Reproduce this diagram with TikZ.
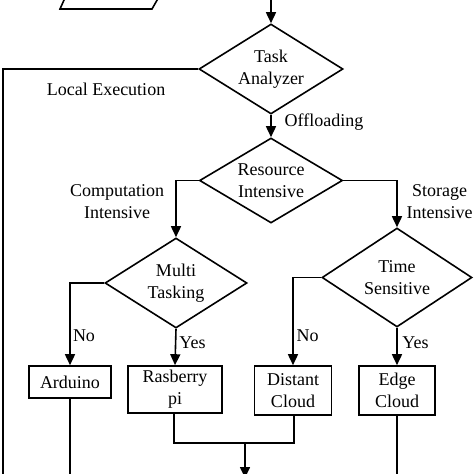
\documentclass[tikz,border=0pt]{standalone}
\usepackage{fontspec}
\setmainfont{Liberation Serif}
\usetikzlibrary{shapes.geometric,arrows.meta}
\begin{document}
\begin{tikzpicture}[x=1pt,y=-1pt,
  every node/.style={font=\fontsize{18}{22}\selectfont, align=center, inner sep=0pt},
  line/.style={line width=1.6pt, line join=miter},
  arr/.style={line, -{Triangle[length=11pt,width=10pt]}},
  dia/.style={draw, line width=1.6pt, diamond, aspect=1.6, inner sep=0pt},
  box/.style={draw, line width=1.6pt, rectangle, inner sep=0pt},
  lab/.style={fill=none}]
\useasboundingbox (0,0) rectangle (474,474);
\clip (0,0) rectangle (474,474);
% input parallelogram (cropped)
\draw[line] (82,-40) -- (180,-40) -- (152,9) -- (60,9) -- cycle;
\coordinate (in) at (271,-10);
% decisions
\node[dia, minimum width=144pt, minimum height=90pt] (ta) at (271,69) {Task\\Analyzer};
\node[dia, minimum width=143pt, minimum height=85pt] (ri) at (271,180.5) {Resource\\Intensive};
\node[dia, minimum width=142pt, minimum height=90pt] (mt) at (176,283) {Multi\\Tasking};
\node[dia, minimum width=150pt, minimum height=99pt] (ts) at (397,277.5) {Time\\Sensitive};
% boxes
\node[box, minimum width=82pt, minimum height=32pt] (ard) at (70,382) {Arduino};
\node[box, minimum width=94pt, minimum height=47pt] (ras) at (175,389.5) {Rasberry\\pi};
\node[box, minimum width=77pt, minimum height=49pt] (dis) at (293,390.5) {Distant\\Cloud};
\node[box, minimum width=76pt, minimum height=49pt] (edg) at (397,390.5) {Edge\\Cloud};
% helper coordinates
\coordinate (le) at (3,69);
\coordinate (leb) at (3,480);
\coordinate (ardb) at (70,480);
\coordinate (edgb) at (397,480);
\coordinate (mL) at (174,443);
\coordinate (mR) at (294,443);
\coordinate (m) at (245,443);
\coordinate (mb) at (245,478);
% connectors
\draw[arr] (in) -- (ta.north);
\draw[line] (ta.west) -- (le) -- (leb);
\draw[arr] (ta.south) -- (ri.north);
\draw[arr] (ri.west) -| (mt.north);
\draw[arr] (ri.east) -| (ts.north);
\draw[arr] (mt.west) -| (ard.north);
\draw[arr] (mt.south) -- (ras.north);
\draw[arr] (ts.west) -| (dis.north);
\draw[arr] (ts.south) -- (edg.north);
\draw[line] (ard.south) -- (ardb);
\draw[line] (edg.south) -- (edgb);
\draw[line] (ras.south -| mL) -- (mL) -- (mR) -- (dis.south -| mR);
\draw[arr] (m) -- (mb);
% labels
\node[lab] (l1) at (106,89) {Local Execution};
\node[lab] (l2) at (324,122) {Offloading};
\node[lab] (l3) at (117,202) {Computation\\Intensive};
\node[lab] (l4) at (439.5,202) {Storage\\Intensive};
\node[lab] (l5) at (84,336) {No};
\node[lab] (l6) at (192.5,343) {Yes};
\node[lab] (l7) at (307.5,336) {No};
\node[lab] (l8) at (415.5,343) {Yes};
\end{tikzpicture}
\end{document}
